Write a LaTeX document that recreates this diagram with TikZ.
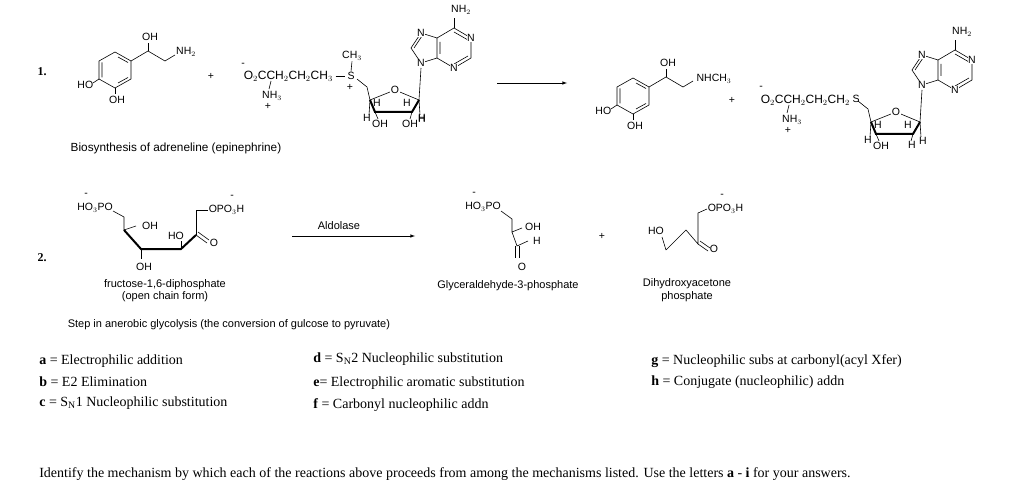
\documentclass[tikz,border=0pt]{standalone}
\usepackage{fontspec}
\setmainfont{Liberation Serif}
\newfontfamily\sansf{Liberation Sans}
\begin{document}
\begin{tikzpicture}[x=1pt,y=-1pt,line width=0.6pt,
  lab/.style={font=\sansf\fontsize{10.5}{11}\selectfont,inner sep=0.5pt},
  chain/.style={font=\sansf\fontsize{12}{13}\selectfont,inner sep=0.5pt,anchor=west},
  capt/.style={font=\sansf\fontsize{11}{13}\selectfont,inner sep=0.5pt},
  mech/.style={font=\fontsize{14}{16}\selectfont,anchor=west,inner sep=0pt},
  bold/.style={line width=2pt}]
\useasboundingbox (0,0) rectangle (1024,486);
\tikzset{cat/.pic={
  \draw (0,-18)--(16,-9)--(16,9)--(0,18)--(-16,9)--(-16,-9)--cycle;
  \draw (3,-13)--(13,-7.5) (-13,-7.5)--(-13,7.5) (3,13)--(13,7.5);
  \draw (16,-9)--(33,-19)--(50,-9)--(60,-15);
  \draw (33,-19)--(33,-27);
  \node[lab] at (35,-33) {OH};
  \draw (-16,9)--(-22,13);
  \node[lab,anchor=east] at (-21,15) {HO};
  \draw (0,18)--(0,24);
  \node[lab] at (2,30) {OH};
}}
\tikzset{ade/.pic={
  \draw (0,0)--(16,-5)--(16,-25)--(0,-30)--(-10,-15)--cycle;
  \draw (-7,-15)--(1,-27);
  \draw (16,-5)--(33,5)--(50,-5)--(50,-25)--(33,-35)--(16,-25);
  \draw (19,-9)--(19,-21) (33,1)--(47,-7) (33,-31)--(47,-23);
  \draw (33,-35)--(33,-45);
  \node[lab] at (40,-53) {NH$_2$};
  \node[lab,fill=white] at (0,0) {N};
  \node[lab,fill=white] at (0,-30) {N};
  \node[lab,fill=white] at (50,-25) {N};
  \node[lab,fill=white] at (33,5) {N};
  \draw (0,5)--(-2,37);
  \draw (-2,37)--(-26,27)--(-51,37);
  \node[lab,fill=white] at (-26,27) {O};
  \draw (-51,37)--(-54,24)--(-64,16);
  \draw[bold] (-51,37)--(-46,49)--(-9,49)--(-2,37);
  \draw (-51,37)--(-52,52) (-9,49)--(-11,56) (-46,49)--(-43,56) (-2,37)--(-1,52);
  \node[lab] at (-41,61) {OH};
  \node[lab] at (-54,55) {H};
  \node[lab] at (-44,40) {H};
  \node[lab] at (-14,40) {H};
  \node[lab] at (1,56) {H};
}}
\node[font=\bfseries\fontsize{12}{14}\selectfont] at (42,72) {1.};
\pic at (115,70) {cat};
\node[lab] at (186,52) {NH$_2$};
\node[lab] at (211,76) {+};
\node[chain] (chainA) at (243,76) {O$_2$CCH$_2$CH$_2$CH$_3$};
\node[lab] (SA) at (351,76) {S};
\draw (chainA.east) ++(2,0) -- ([xshift=-2pt]SA.west);
\node[lab] at (243,65) {-};
\node[lab] at (350,87) {+};
\node[lab] (CH3A) at (352,56) {CH$_3$};
\draw (CH3A.south) -- (SA.north);
\draw (271,81)--(269,89);
\node[lab] at (272,96) {NH$_3$};
\node[lab] at (268,106) {+};
\pic at (421,63) {ade};
\node[lab] at (410,124) {OH};
\node[lab] at (422,118) {H};
\node[capt,font=\sansf\fontsize{11.8}{13}\selectfont] at (176,148) {Biosynthesis of adreneline (epinephrine)};
\draw[-latex] (497,83)--(567,83);
\pic at (633,96) {cat};
\node[lab] at (714,79) {NHCH$_3$};
\node[lab] at (732,100) {+};
\node[chain] at (760,100) {O$_2$CCH$_2$CH$_2$CH$_2$};
\node[lab] at (856,99) {S};
\node[lab] at (761,88) {-};
\draw (789,105)--(787,113);
\node[lab] at (792,120) {NH$_3$};
\node[lab] at (788,130) {+};
\pic at (922,85) {ade};
\node[lab] at (912,145) {H};
\node[font=\bfseries\fontsize{12}{14}\selectfont] at (42,258) {2.};
\node[lab] at (95,208) {HO$_3$PO};
\node[lab] at (86,195) {-};
\draw (113,211)--(124,217)--(124,230)--(136,226);
\node[lab] at (150,226) {OH};
\draw[bold] (124,230)--(141,249)--(181,249)--(196,235);
\draw (141,249)--(141,259);
\node[lab] at (144,267) {OH};
\draw (181,249)--(181,241);
\node[lab] at (176,236) {HO};
\draw (196,235)--(196,210)--(208,210);
\node[lab,anchor=west] at (208,210) {OPO$_3$H};
\node[lab] at (232,197) {-};
\draw (196,235)--(207,243) (198,232)--(209,240);
\node[lab] at (214,243) {O};
\node[capt] at (165,285) {fructose-1,6-diphosphate};
\node[capt] at (165,297) {(open chain form)};
\draw[-latex] (292,236)--(415,236);
\node[capt] at (339,226) {Aldolase};
\node[lab] at (483,207) {HO$_3$PO};
\node[lab] at (474,194) {-};
\draw (501,211)--(512,219)--(512,232)--(522,228);
\node[lab] at (533,227) {OH};
\draw (512,232)--(517,246)--(528,241);
\node[lab] at (537,241) {H};
\draw (515,246)--(515,258) (519,246)--(519,258);
\node[lab] at (522,267) {O};
\node[capt] at (508,286) {Glyceraldehyde-3-phosphate};
\node[lab] at (602,236) {+};
\draw (666,250)--(662,237) (666,250)--(686,230)--(698,244)--(698,213)--(707,209);
\node[lab] at (656,231) {HO};
\draw (698,244)--(708,251) (700,241)--(710,248);
\node[lab,anchor=west] at (707,209) {OPO$_3$H};
\node[lab] at (722,196) {-};
\node[lab] at (714,249) {O};
\node[capt] at (687,284) {Dihydroxyacetone};
\node[capt] at (687,297) {phosphate};
\node[capt,anchor=west] at (67,325) {Step in anerobic glycolysis (the conversion of gulcose to pyruvate)};
\node[mech] at (39,361) {\textbf{a} = Electrophilic addition};
\node[mech] at (39,382) {\textbf{b} = E2 Elimination};
\node[mech] at (39,403) {\textbf{c} = S$_{\mathrm N}$1 Nucleophilic substitution};
\node[mech] at (313,359) {\textbf{d} = S$_{\mathrm N}$2 Nucleophilic substitution};
\node[mech] at (313,383) {\textbf{e}= Electrophilic aromatic substitution};
\node[mech] at (313,405) {\textbf{f} = Carbonyl nucleophilic addn};
\node[mech] at (651,361) {\textbf{g} = Nucleophilic subs at carbonyl(acyl Xfer)};
\node[mech] at (651,382) {\textbf{h} = Conjugate (nucleophilic) addn};
\node[mech] at (39,474) {Identify the mechanism by which each of the reactions above proceeds from among the mechanisms listed. Use the letters \textbf{a} - \textbf{i} for your answers.};
\end{tikzpicture}
\end{document}
